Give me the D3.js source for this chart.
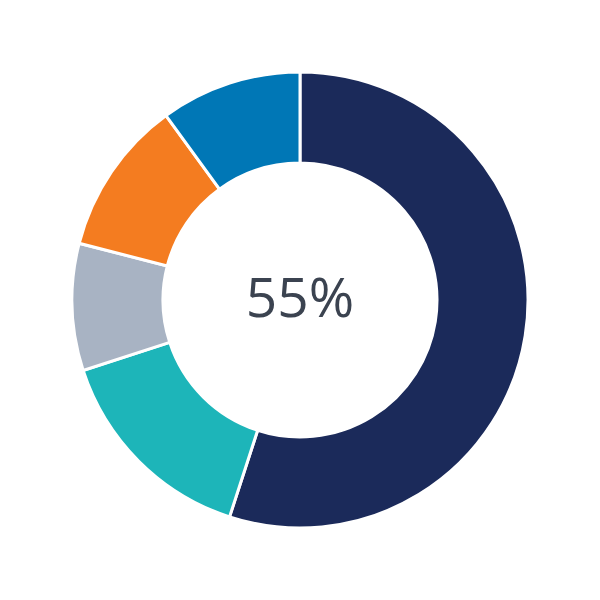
<!DOCTYPE html>
<html>
<head>
<meta charset="utf-8">
<script src="https://cdn.jsdelivr.net/npm/d3@7.9.0/dist/d3.min.js"></script>
<style>
  body { margin: 0; background: #fff; }
</style>
</head>
<body>
<svg width="600" height="600"></svg>
<script>
const labels = ['A', 'B', 'C', 'D', 'E'];
const values = [55, 15, 9, 11, 10];
const colors = ['#1b2a5a', '#1db5b9', '#a8b3c3', '#f47c20', '#0077b6'];
const centerLabel = '55%';

const svg = d3.select('svg');
const g = svg.append('g').attr('transform', 'translate(300,300)');

let arcGenerator = d3.arc().innerRadius(137).outerRadius(228);
let pie = d3.pie().sort(null).value(d => d);
let arcData = pie(values);

g.selectAll('path')
  .data(arcData)
  .join('path')
  .attr('d', arcGenerator)
  .attr('fill', (d, i) => colors[i])
  .attr('stroke', '#fff')
  .attr('stroke-width', 3);

g.append('text')
  .attr('text-anchor', 'middle')
  .attr('y', 17)
  .attr('font-family', "'Open Sans', sans-serif")
  .attr('font-size', 55)
  .attr('fill', '#3b4350')
  .text(centerLabel);
</script>
</body>
</html>
